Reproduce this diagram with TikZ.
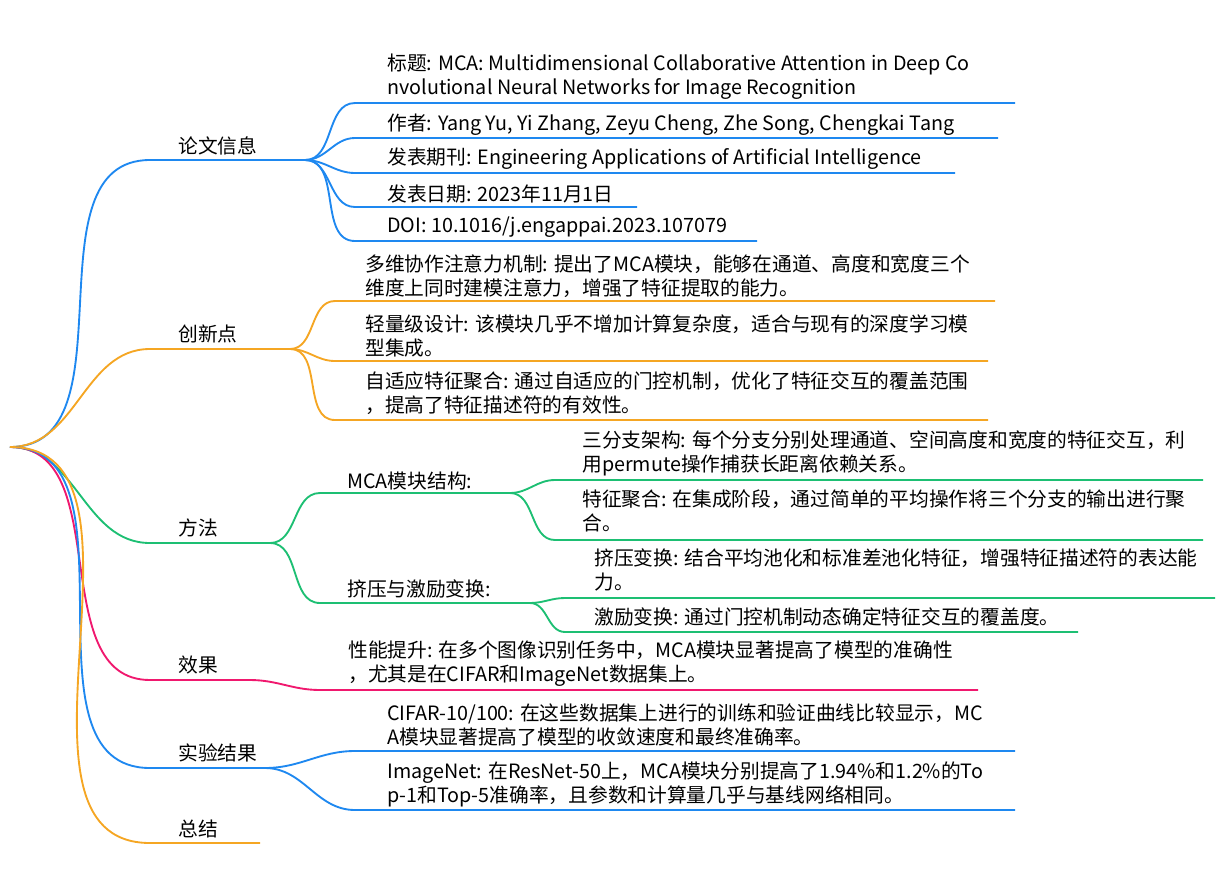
\documentclass[tikz,border=0pt]{standalone}
\usepackage{fontspec}
\setmainfont{Noto Sans CJK SC}
\definecolor{cb}{HTML}{1E88F0}
\definecolor{co}{HTML}{F5A623}
\definecolor{cg}{HTML}{1DBF73}
\definecolor{cp}{HTML}{F0186E}
\begin{document}
\begin{tikzpicture}[x=0.75pt,y=-0.75pt,
  ln/.style={line width=1.4pt},
  tx/.style={anchor=west,inner sep=0,align=left,font=\fontsize{14.8pt}{18pt}\selectfont}]
\useasboundingbox (0,0) rectangle (1229,890);
\coordinate (root) at (10,447);
\newcommand\br[6]{% color, parent, x1, y, x2, name
  \coordinate (#6s) at (#3,#4); \coordinate (#6e) at (#5,#4);
  \draw[ln,#1] (#2) to[out=0,in=180] (#6s) -- (#6e);}
% level 1
\br{cb}{root}{150}{160}{305}{a}
\br{co}{root}{150}{349}{290}{b}
\br{cg}{root}{150}{543}{270}{c}
\br{cp}{root}{150}{680}{250}{d}
\br{cb}{root}{150}{768}{265}{e}
\br{co}{root}{150}{843}{260}{f}
\node[tx] (ta) at (178,146) {论文信息};
\node[tx] (tb) at (178,334) {创新点};
\node[tx] (tc) at (178,528) {方法};
\node[tx] (td) at (178,665) {效果};
\node[tx] (te) at (178,753) {实验结果};
\node[tx] (tf) at (178,829) {总结};
% 论文信息
\br{cb}{ae}{355}{103}{1015}{a1}
\br{cb}{ae}{355}{138}{998}{a2}
\br{cb}{ae}{355}{173}{955}{a3}
\br{cb}{ae}{355}{207}{637}{a4}
\br{cb}{ae}{355}{241}{757}{a5}
\node[tx] (ta1) at (387,77) {标题: MCA: Multidimensional Collaborative Attention in Deep Co\\nvolutional Neural Networks for Image Recognition};
\node[tx] (ta2) at (387,125) {作者: Yang Yu, Yi Zhang, Zeyu Cheng, Zhe Song, Chengkai Tang};
\node[tx] (ta3) at (387,159) {发表期刊: Engineering Applications of Artificial Intelligence};
\node[tx] (ta4) at (387,194) {发表日期: 2023年11月1日};
\node[tx] (ta5) at (387,227) {DOI: 10.1016/j.engappai.2023.107079};
% 创新点
\br{co}{be}{335}{301}{995}{b1}
\br{co}{be}{335}{361}{988}{b2}
\br{co}{be}{335}{420}{988}{b3}
\node[tx] (tb1) at (365,276) {多维协作注意力机制: 提出了MCA模块，能够在通道、高度和宽度三个\\维度上同时建模注意力，增强了特征提取的能力。};
\node[tx] (tb2) at (365,336) {轻量级设计: 该模块几乎不增加计算复杂度，适合与现有的深度学习模\\型集成。};
\node[tx] (tb3) at (365,393) {自适应特征聚合: 通过自适应的门控机制，优化了特征交互的覆盖范围\\，提高了特征描述符的有效性。};
% 方法
\br{cg}{ce}{320}{493}{510}{c1}
\br{cg}{ce}{320}{603}{530}{c2}
\node[tx] (tc1) at (347,481) {MCA模块结构:};
\node[tx] (tc2) at (347,589) {挤压与激励变换:};
\br{cg}{c1e}{555}{480}{1203}{c11}
\br{cg}{c1e}{555}{540}{1203}{c12}
\node[tx] (tc11) at (582,453) {三分支架构: 每个分支分别处理通道、空间高度和宽度的特征交互，利\\用permute操作捕获长距离依赖关系。};
\node[tx] (tc12) at (582,511) {特征聚合: 在集成阶段，通过简单的平均操作将三个分支的输出进行聚\\合。};
\br{cg}{c2e}{565}{598}{1215}{c21}
\br{cg}{c2e}{565}{632}{1078}{c22}
\node[tx] (tc21) at (594,570) {挤压变换: 结合平均池化和标准差池化特征，增强特征描述符的表达能\\力。};
\node[tx] (tc22) at (594,617) {激励变换: 通过门控机制动态确定特征交互的覆盖度。};
% 效果
\br{cp}{de}{320}{690}{978}{d1}
\node[tx] (td1) at (348,664) {性能提升: 在多个图像识别任务中，MCA模块显著提高了模型的准确性\\，尤其是在CIFAR和ImageNet数据集上。};
% 实验结果
\br{cb}{ee}{355}{751}{1015}{e1}
\br{cb}{ee}{355}{810}{1015}{e2}
\node[tx] (te1) at (387,725) {CIFAR-10/100: 在这些数据集上进行的训练和验证曲线比较显示，MC\\A模块显著提高了模型的收敛速度和最终准确率。};
\node[tx] (te2) at (387,784) {ImageNet: 在ResNet-50上，MCA模块分别提高了1.94\%和1.2\%的To\\p-1和Top-5准确率，且参数和计算量几乎与基线网络相同。};
\end{tikzpicture}
\end{document}
